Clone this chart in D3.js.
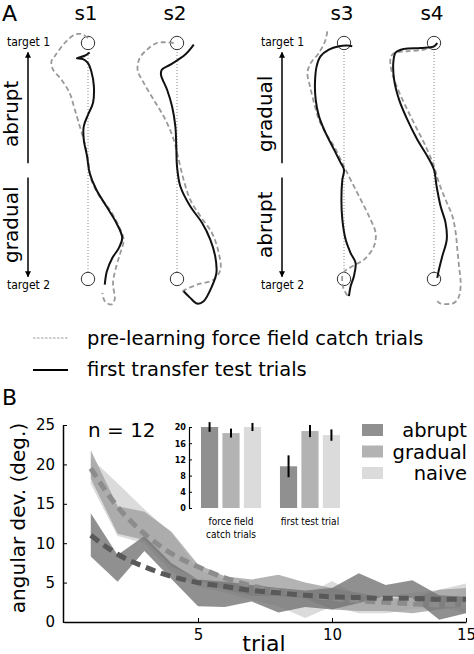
<!DOCTYPE html>
<html><head><meta charset="utf-8">
<script src="https://cdn.jsdelivr.net/npm/d3@7"></script>
<style>body{margin:0;background:#fff} svg{display:block;font-family:"DejaVu Sans",sans-serif}</style>
</head><body>
<svg id="fig" width="474" height="654"></svg>
<script>
// ---------- Panel A data: [lateral deviation (mm), distance along path (mm)], target distance = 100 mm
const subjects = ["s1", "s2", "s3", "s4"];
const s1Pre = [[0,-2.1],[-2.8,-3.8],[-5.6,-3.5],[-9.9,0],[-14.1,5.6],[-15.5,7.8],[-14.8,11.3],[-11.3,15.5],[-7.8,21.2],[-5.6,28.2],[-3.5,35.3],[-1.4,42.4],[0,49.4],[1.4,57.9],[4.9,65.0],[9.2,70.6],[13.1,77.7],[15.1,83.3],[13.7,89.0],[12.0,94.6],[10.6,101.7],[11.3,108.7],[9.9,110.8],[7.1,109.4],[6.1,105.9]];
const s1Test = [[0.7,4.0],[-1.4,5.4],[-4.7,6.5],[-2.1,6.8],[0,8.5],[1.4,12.0],[2.5,18.4],[2.1,25.4],[0,30.4],[-1.8,35.3],[-1.8,40.9],[-0.4,48.0],[0.7,55.1],[3.5,62.1],[7.8,69.2],[12.0,76.2],[14.5,82.6],[13.1,86.8],[10.3,91.1],[8.0,96.7],[7.1,102.4]];
const s2Pre = [[-1.4,0],[-4.9,-0.3],[-8.5,0],[-12.7,2.8],[-15.8,6.4],[-16.7,11.3],[-14.1,16.9],[-9.9,24.0],[-4.9,32.5],[-1.4,40.9],[0.7,49.4],[2.8,57.9],[5.6,66.4],[9.9,73.4],[14.8,80.5],[17.7,89.0],[18.4,96.0],[15.5,100.3],[8.5,102.4],[3.5,104.5],[1.4,105.9]];
const s2Test = [[7.1,0.7],[3.5,4.9],[-2.8,9.2],[-6.4,11.3],[-6.8,13.4],[-4.2,19.8],[-2.1,26.8],[-0.7,35.3],[-0.3,43.8],[0,52.2],[1.4,60.7],[5.6,69.2],[10.6,76.2],[14.1,83.3],[16.2,90.4],[16.7,97.4],[14.8,103.1],[11.3,109.4],[8.5,110.4],[5.6,108.0],[2.8,105.2]];
const s3Pre = [[-7.1,-4.9],[-7.8,-1.4],[-10.6,4.2],[-14.1,8.5],[-15.5,12.7],[-14.4,18.4],[-12.7,25.4],[-10.6,32.5],[-7.8,38.1],[-4.2,43.8],[-1.4,49.4],[0.7,53.7],[3.5,59.3],[7.1,66.4],[10.6,73.4],[13.4,80.5],[12.7,86.1],[8.5,91.8],[3.5,94.6],[-0.3,97.4],[-0.7,101.7],[0,104.5],[2.1,108.0]];
const s3Test = [[3.5,1.4],[1.4,1.1],[-2.1,1.4],[-6.4,2.8],[-9.9,5.6],[-11.6,9.9],[-12.3,16.9],[-12.0,24.0],[-10.6,31.1],[-7.8,38.1],[-4.2,45.2],[-1.4,50.8],[0,53.7],[-0.7,57.9],[-1.1,66.4],[-0.7,74.8],[0.7,83.3],[2.8,89.0],[4.9,93.2],[4.2,98.8],[2.8,103.1],[2.1,107.3]];
const s4Pre = [[0,1.4],[-4.2,2.8],[-11.3,3.5],[-16.9,4.2],[-18.4,6.4],[-18.1,11.3],[-15.8,18.4],[-12.0,26.8],[-7.8,35.3],[-3.5,43.8],[0,52.2],[2.1,59.3],[4.9,66.4],[7.8,73.4],[9.2,80.5],[9.9,87.5],[10.6,94.6],[11.3,101.7],[10.6,107.3],[8.5,110.1],[2.8,110.4],[1.4,109.4]];
const s4Test = [[1.4,0],[0,1.4],[-5.6,2.1],[-12.7,2.5],[-16.2,4.0],[-17.2,7.8],[-16.9,15.5],[-14.8,24.0],[-11.3,32.5],[-7.1,40.9],[-2.8,48.0],[0,53.7],[1.1,60.7],[2.8,69.2],[4.9,76.2],[5.4,83.3],[3.5,90.4],[2.1,96.0],[1.4,99.5]];
const preTraces = [s1Pre, s2Pre, s3Pre, s4Pre];
const testTraces = [s1Test, s2Test, s3Test, s4Test];
const directionLabels = [["abrupt", "gradual"], ["gradual", "abrupt"]];
const legendALabels = ["pre-learning force field catch trials", "first transfer test trials"];

// ---------- Panel B data
const trials = [1,2,3,4,5,6,7,8,9,10,11,12,13,14,15];
const abruptLo  = [8.3,5.1,9.0,5.5,2.0,1.9,2.6,1.2,1.9,1.6,2.4,3.3,3.0,0.3,1.1];
const abruptHi  = [13.8,8.5,10.9,7.5,5.4,5.1,4.7,4.3,4.0,4.3,6.2,4.7,5.3,3.4,3.2];
const gradualLo = [18.2,11.2,10.4,7.1,5.4,4.1,3.3,3.3,3.0,1.6,1.4,1.4,1.1,1.6,2.0];
const gradualHi = [21.8,14.7,14.0,11.5,7.3,5.8,5.4,6.0,5.0,4.3,3.7,3.0,3.0,4.1,4.3];
const naiveLo   = [17.5,10.9,10.0,6.4,4.5,3.7,2.8,2.0,0.5,2.0,1.1,1.1,1.6,2.0,1.1];
const naiveHi   = [20.8,17.6,14.3,11.3,6.6,5.4,4.5,3.7,3.3,5.2,3.3,3.3,3.7,4.1,4.9];
const abruptFit  = [11.0,8.6,7.0,5.8,5.0,4.5,4.0,3.7,3.4,3.2,3.1,3.0,3.0,2.9,2.9];
const gradualFit = [19.5,14.6,11.2,8.7,7.0,5.6,4.6,3.9,3.4,3.0,2.7,2.5,2.3,2.2,2.2];
const groups = ["abrupt", "gradual", "naive"];
const yTicks = [0,5,10,15,20,25];
const xTicks = [5,10,15];
const insetCategories = ["force field catch trials", "first test trial"];
const insetCatch = [20, 18.5, 20];
const insetCatchErr = [1.2, 1.1, 1.0];
const insetFirst = [10.3, 19, 18];
const insetFirstErr = [2.7, 1.5, 1.4];
const insetTicks = [0,4,8,12,16,20];

const svg = d3.select("#fig");
svg.append("rect").attr("width",474).attr("height",654).attr("fill","#fff");

// ================= PANEL A =================
const A = svg.append("g");
A.append("text").attr("x",2).attr("y",21).attr("font-size",22).text("A");
const yA = d3.scaleLinear().domain([0,100]).range([43,279]);
const xCenter = d3.scaleOrdinal().domain(subjects).range([88,177,344,434]);
const defs = svg.append("defs");
defs.append("marker").attr("id","ah").attr("viewBox","0 0 10 10").attr("refX",9).attr("refY",5)
  .attr("markerWidth",11).attr("markerHeight",6).attr("markerUnits","userSpaceOnUse").attr("orient","auto")
  .append("path").attr("d","M0,0 L10,5 L0,10 z").attr("fill","#000");

subjects.forEach((s,i)=>{
  const c = xCenter(s);
  const xs = d3.scaleLinear().domain([-50,50]).range([c-118, c+118]);
  const line = d3.line().x(d=>xs(d[0])).y(d=>yA(d[1])).curve(d3.curveCatmullRom.alpha(0.5));
  A.append("text").attr("x",c-2).attr("y",20).attr("text-anchor","middle").attr("font-size",20).text(s);
  A.append("line").attr("x1",xs(0)).attr("x2",xs(0)).attr("y1",yA(0)+6).attr("y2",yA(100)-6)
    .attr("stroke","#888").attr("stroke-width",1).attr("stroke-dasharray","1,2");
  [0,100].forEach(t=>A.append("circle").attr("cx",xs(0)).attr("cy",yA(t)).attr("r",6.7)
    .attr("fill","none").attr("stroke","#333").attr("stroke-width",1));
  A.append("path").attr("d",line(preTraces[i])).attr("fill","none").attr("stroke","#999")
    .attr("stroke-width",1.8).attr("stroke-dasharray","5,3");
  A.append("path").attr("d",line(testTraces[i])).attr("fill","none").attr("stroke","#111")
    .attr("stroke-width",2);
});

// direction arrows and labels
const arrowX = [28, 282];
arrowX.forEach((ax,k)=>{
  A.append("line").attr("x1",ax).attr("x2",ax).attr("y1",yA(51)).attr("y2",yA(4))
    .attr("stroke","#000").attr("stroke-width",1.5).attr("marker-end","url(#ah)");
  A.append("line").attr("x1",ax).attr("x2",ax).attr("y1",yA(57)).attr("y2",yA(99))
    .attr("stroke","#000").attr("stroke-width",1.5).attr("marker-end","url(#ah)");
  const tx = ax - 21;
  A.append("text").attr("x",tx).attr("y",46).attr("font-family","DejaVu Sans Condensed").attr("font-size",12).text("target 1");
  A.append("text").attr("x",tx).attr("y",289).attr("font-family","DejaVu Sans Condensed").attr("font-size",12).text("target 2");
  const bx = ax - 10;
  A.append("text").attr("transform",`translate(${bx},${yA(30)}) rotate(-90)`).attr("text-anchor","middle")
    .attr("font-size",20).text(directionLabels[k][0]);
  A.append("text").attr("transform",`translate(${bx},${yA(77)}) rotate(-90)`).attr("text-anchor","middle")
    .attr("font-size",20).text(directionLabels[k][1]);
});

// legend of panel A
const legA = A.append("g");
legA.append("line").attr("x1",33).attr("x2",68).attr("y1",338).attr("y2",338)
  .attr("stroke","#999").attr("stroke-width",1).attr("stroke-dasharray","2.5,1.5");
legA.append("line").attr("x1",33).attr("x2",68).attr("y1",370).attr("y2",370)
  .attr("stroke","#000").attr("stroke-width",1.8);
legA.append("text").attr("x",87).attr("y",345).attr("font-size",19.5).text(legendALabels[0]);
legA.append("text").attr("x",87).attr("y",376).attr("font-size",19.5).text(legendALabels[1]);

// ================= PANEL B =================
const B = svg.append("g");
B.append("text").attr("x",2).attr("y",405).attr("font-size",22).text("B");
const x = d3.scaleLinear().domain([0,15]).range([64,466]);
const y = d3.scaleLinear().domain([0,25]).range([622,425]);
const colors = d3.scaleOrdinal().domain(groups).range(["#747474","#a0a0a0","#d2d2d2"]);
const bandOpacity = 0.8;

const bands = [["naive",naiveLo,naiveHi],["gradual",gradualLo,gradualHi],["abrupt",abruptLo,abruptHi]];
const area = d3.area().x((d,i)=>x(trials[i])).y0(d=>y(d[0])).y1(d=>y(d[1]));
bands.forEach(([g,lo,hi])=>{
  B.append("path").attr("d",area(lo.map((v,i)=>[v,hi[i]]))).attr("fill",colors(g)).attr("fill-opacity",bandOpacity);
});
const fitLine = d3.line().x((d,i)=>x(trials[i])).y(d=>y(d)).curve(d3.curveMonotoneX);
B.append("path").attr("d",fitLine(gradualFit)).attr("fill","none").attr("stroke","#8c8c8c")
  .attr("stroke-width",5).attr("stroke-dasharray","10,6");
B.append("path").attr("d",fitLine(abruptFit)).attr("fill","none").attr("stroke","#595959")
  .attr("stroke-width",5).attr("stroke-dasharray","10,6");

const yAxis = B.append("g").attr("transform",`translate(${x(0)-1},0)`)
  .call(d3.axisLeft(y).tickValues(yTicks).tickSize(-4).tickSizeOuter(0).tickPadding(8));
const xAxis = B.append("g").attr("transform",`translate(0,${y(0)})`)
  .call(d3.axisBottom(x).tickValues(xTicks).tickSize(-4).tickSizeOuter(0).tickPadding(7));
[yAxis,xAxis].forEach(a=>{
  a.selectAll("text").attr("font-size",15).attr("font-family","DejaVu Sans").attr("fill","#000");
  a.select(".domain").attr("stroke","#000").attr("stroke-width",1.5);
  a.selectAll(".tick line").attr("stroke","#000");
});
B.append("text").attr("transform",`translate(25,518) rotate(-90)`).attr("text-anchor","middle")
  .attr("font-size",20).text("angular dev. (deg.)");
B.append("text").attr("x",264).attr("y",651).attr("text-anchor","middle").attr("font-size",22).text("trial");
B.append("text").attr("x",88).attr("y",437).attr("font-size",20).text("n = 12");

// legend B
groups.forEach((g,i)=>{
  const ly = 424 + i*21.5;
  B.append("rect").attr("x",362).attr("y",ly).attr("width",21).attr("height",12)
    .attr("fill",colors(g)).attr("fill-opacity",bandOpacity);
  B.append("text").attr("x",467).attr("y",ly+13).attr("text-anchor","end").attr("font-size",19.5).text(g);
});

// inset bar chart
const yIn = d3.scaleLinear().domain([0,20]).range([508,427]);
const xGroup = d3.scaleBand().domain(insetCategories).range([201,340]).paddingInner(0.24);
const xBar = d3.scaleBand().domain(groups).range([0,xGroup.bandwidth()]).paddingInner(0.2);
const insetData = [[insetCatch,insetCatchErr],[insetFirst,insetFirstErr]];
insetCategories.forEach((cat,ci)=>{
  const [vals,errs] = insetData[ci];
  const gx = xGroup(cat);
  groups.forEach((g,gi)=>{
    const bx = gx + xBar(g);
    B.append("rect").attr("x",bx).attr("y",yIn(vals[gi])).attr("width",xBar.bandwidth())
      .attr("height",yIn(0)-yIn(vals[gi])).attr("fill",colors(g)).attr("fill-opacity",bandOpacity);
    B.append("line").attr("x1",bx+xBar.bandwidth()/2).attr("x2",bx+xBar.bandwidth()/2)
      .attr("y1",yIn(vals[gi]-errs[gi])).attr("y2",yIn(vals[gi]+errs[gi]))
      .attr("stroke","#000").attr("stroke-width",2);
  });
});
const inAxis = B.append("g").attr("transform","translate(189,0)")
  .call(d3.axisLeft(yIn).tickValues(insetTicks).tickSize(-3).tickSizeOuter(0).tickPadding(3));
inAxis.selectAll("text").attr("font-size",9).attr("font-weight","bold").attr("font-family","DejaVu Sans Condensed").attr("fill","#000");
inAxis.select(".domain").attr("stroke","#000").attr("stroke-width",1.2);
inAxis.selectAll(".tick line").attr("stroke","#000");
const catLines = [["force field","catch trials"],["first test trial"]];
insetCategories.forEach((cat,ci)=>{
  const cx = xGroup(cat) + xGroup.bandwidth()/2;
  catLines[ci].forEach((t,li)=>{
    B.append("text").attr("x",cx).attr("y",525+li*12.5).attr("text-anchor","middle")
      .attr("font-family","DejaVu Sans Condensed").attr("font-size",10).text(t);
  });
});
</script>
</body></html>
